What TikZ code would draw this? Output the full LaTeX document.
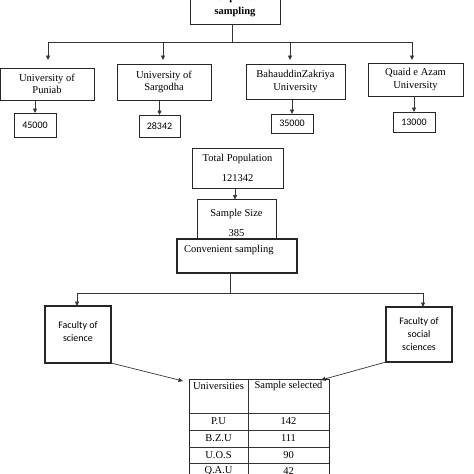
\documentclass[tikz,border=0pt]{standalone}
\usepackage{fontspec}
\setmainfont{Liberation Serif}
\newfontfamily\calfont{Carlito}
\usetikzlibrary{arrows.meta}
\begin{document}
\begin{tikzpicture}[x=1pt,y=-1pt,
  every node/.style={inner sep=0pt, outer sep=0pt},
  box/.style={draw=black!85, line width=0.8pt, fill=white, align=center,
    font=\fontsize{10.5}{12.5}\selectfont},
  thickbox/.style={box, line width=1.5pt},
  numbox/.style={draw=black!85, line width=0.8pt, fill=white,
    font=\calfont\fontsize{10}{12}\selectfont},
  facbox/.style={thickbox, font=\calfont\fontsize{10}{13}\selectfont},
  conn/.style={draw=black!80, line width=0.7pt},
  arr/.style={conn, -{Triangle[length=4.5pt,width=4pt]}},
  cell/.style={font=\fontsize{10.5}{12}\selectfont}
]
\useasboundingbox (0,0) rectangle (474,474);
\clip (0,0) rectangle (474,474);
\fill[white] (0,0) rectangle (474,474);

% Purposive sampling
\node[box, minimum width=90pt, minimum height=38pt, font=\bfseries\fontsize{10.5}{14}\selectfont] (purp) at (235,5) {Purposive\\sampling};

% universities
\node[box, minimum width=94pt, minimum height=32pt] (u1) at (47,84) {University of\\Puniab};
\node[box, minimum width=94pt, minimum height=36pt] (u2) at (164,82) {University of\\Sargodha};
\node[box, minimum width=99pt, minimum height=35pt] (u3) at (295.5,81.5) {BahauddinZakriya\\University};
\node[box, minimum width=95pt, minimum height=33pt] (u4) at (415.5,79.5) {Quaid e Azam\\University};

% numbers
\node[numbox, minimum width=42pt, minimum height=24pt] (n1) at (35,125) {45000};
\node[numbox, minimum width=41pt, minimum height=22pt] (n2) at (159.5,126) {28342};
\node[numbox, minimum width=42pt, minimum height=19pt] (n3) at (292,123.5) {35000};
\node[numbox, minimum width=42pt, minimum height=20pt] (n4) at (414,122) {13000};

% tree from purposive
\coordinate (pj) at (232,42);
\draw[conn] (purp.south -| pj) -- (pj);
\coordinate (b1) at (48,42);
\coordinate (b2) at (163,42);
\coordinate (b3) at (290,42);
\coordinate (b4) at (412,42);
\draw[conn] (b1) -- (b4);
\coordinate (t1) at (48,60);
\coordinate (t2) at (163,60);
\coordinate (t3) at (290,60);
\coordinate (t4) at (412,60);
\draw[arr] (b1) -- (t1);
\draw[arr] (b2) -- (t2);
\draw[arr] (b3) -- (t3);
\draw[arr] (b4) -- (t4);

% small arrows
\draw[arr] (u1.south -| n1.north) -- (n1.north);
\draw[arr] (u2.south -| n2.north) -- (n2.north);
\draw[arr] (u3.south -| n3.north) -- (n3.north);
\draw[arr] (u4.south -| n4.north) -- (n4.north);

% total population, sample size
\node[box, minimum width=91pt, minimum height=40pt] (tp) at (237.5,168) {Total Population\\[8pt]121342};
\node[box, minimum width=79pt, minimum height=46pt] (ss) at (236.5,222.5) {Sample Size\\[7.5pt]385};
\draw[arr] (tp.south -| 235,0) -- (ss.north -| 235,0);

% convenient sampling
\node[thickbox, minimum width=120pt, minimum height=34pt,
  label={[anchor=north west, font=\fontsize{10.5}{12}\selectfont, xshift=7pt, yshift=-6pt]north west:Convenient sampling}] (conv) at (237,256) {};

\coordinate (cj) at (230,293);
\draw[conn] (conv.south -| cj) -- (cj);
\coordinate (fl) at (77,293);
\coordinate (fr) at (423,293);
\draw[conn] (fl) -- (fr);

\node[facbox, minimum width=66pt, minimum height=57pt] (fs) at (78,334.5) {};
\node[font=\calfont\fontsize{10}{13}\selectfont, align=center] (fst) at (fs.center) [yshift=3pt] {Faculty of\\science};
\node[facbox, minimum width=66pt, minimum height=55pt] (fss) at (419,334.5) {Faculty of\\social\\sciences};
\draw[arr] (fl) -- (fs.north -| fl);
\draw[arr] (fr) -- (fss.north -| fr);

% table
\node[draw=black!85, line width=0.7pt, minimum width=140pt, minimum height=111pt] (tbl) at (259,434.5) {};
\coordinate (c0) at (248,379);
\coordinate (c1) at (248,490);
\draw[conn, line width=0.6pt] (c0) -- (c1);
\coordinate (r1l) at (189,413); \coordinate (r1r) at (329,413);
\coordinate (r2l) at (189,430); \coordinate (r2r) at (329,430);
\coordinate (r3l) at (189,447); \coordinate (r3r) at (329,447);
\coordinate (r4l) at (189,463); \coordinate (r4r) at (329,463);
\draw[conn, line width=0.6pt] (r1l) -- (r1r) (r2l) -- (r2r) (r3l) -- (r3r) (r4l) -- (r4r);

\node[cell] (h1) at (218.5,386) {Universities};
\node[cell] (h2) at (288.5,386) {Sample selected};
\node[cell] (a1) at (218.5,421.5) {P.U};
\node[cell] (a2) at (288.5,421.5) {142};
\node[cell] (b1n) at (218.5,438.5) {B.Z.U};
\node[cell] (b2n) at (288.5,438.5) {111};
\node[cell] (cc1) at (218.5,455) {U.O.S};
\node[cell] (cc2) at (288.5,455) {90};
\node[cell] (d1) at (218.5,471) {Q.A.U};
\node[cell] (d2) at (288.5,471) {42};

% arrows into table
\coordinate (tl) at (183,381);
\coordinate (tr) at (321,380);
\draw[arr] (fs.south east) -- (tl);
\draw[arr] (fss.south west) -- (tr);
\end{tikzpicture}
\end{document}
